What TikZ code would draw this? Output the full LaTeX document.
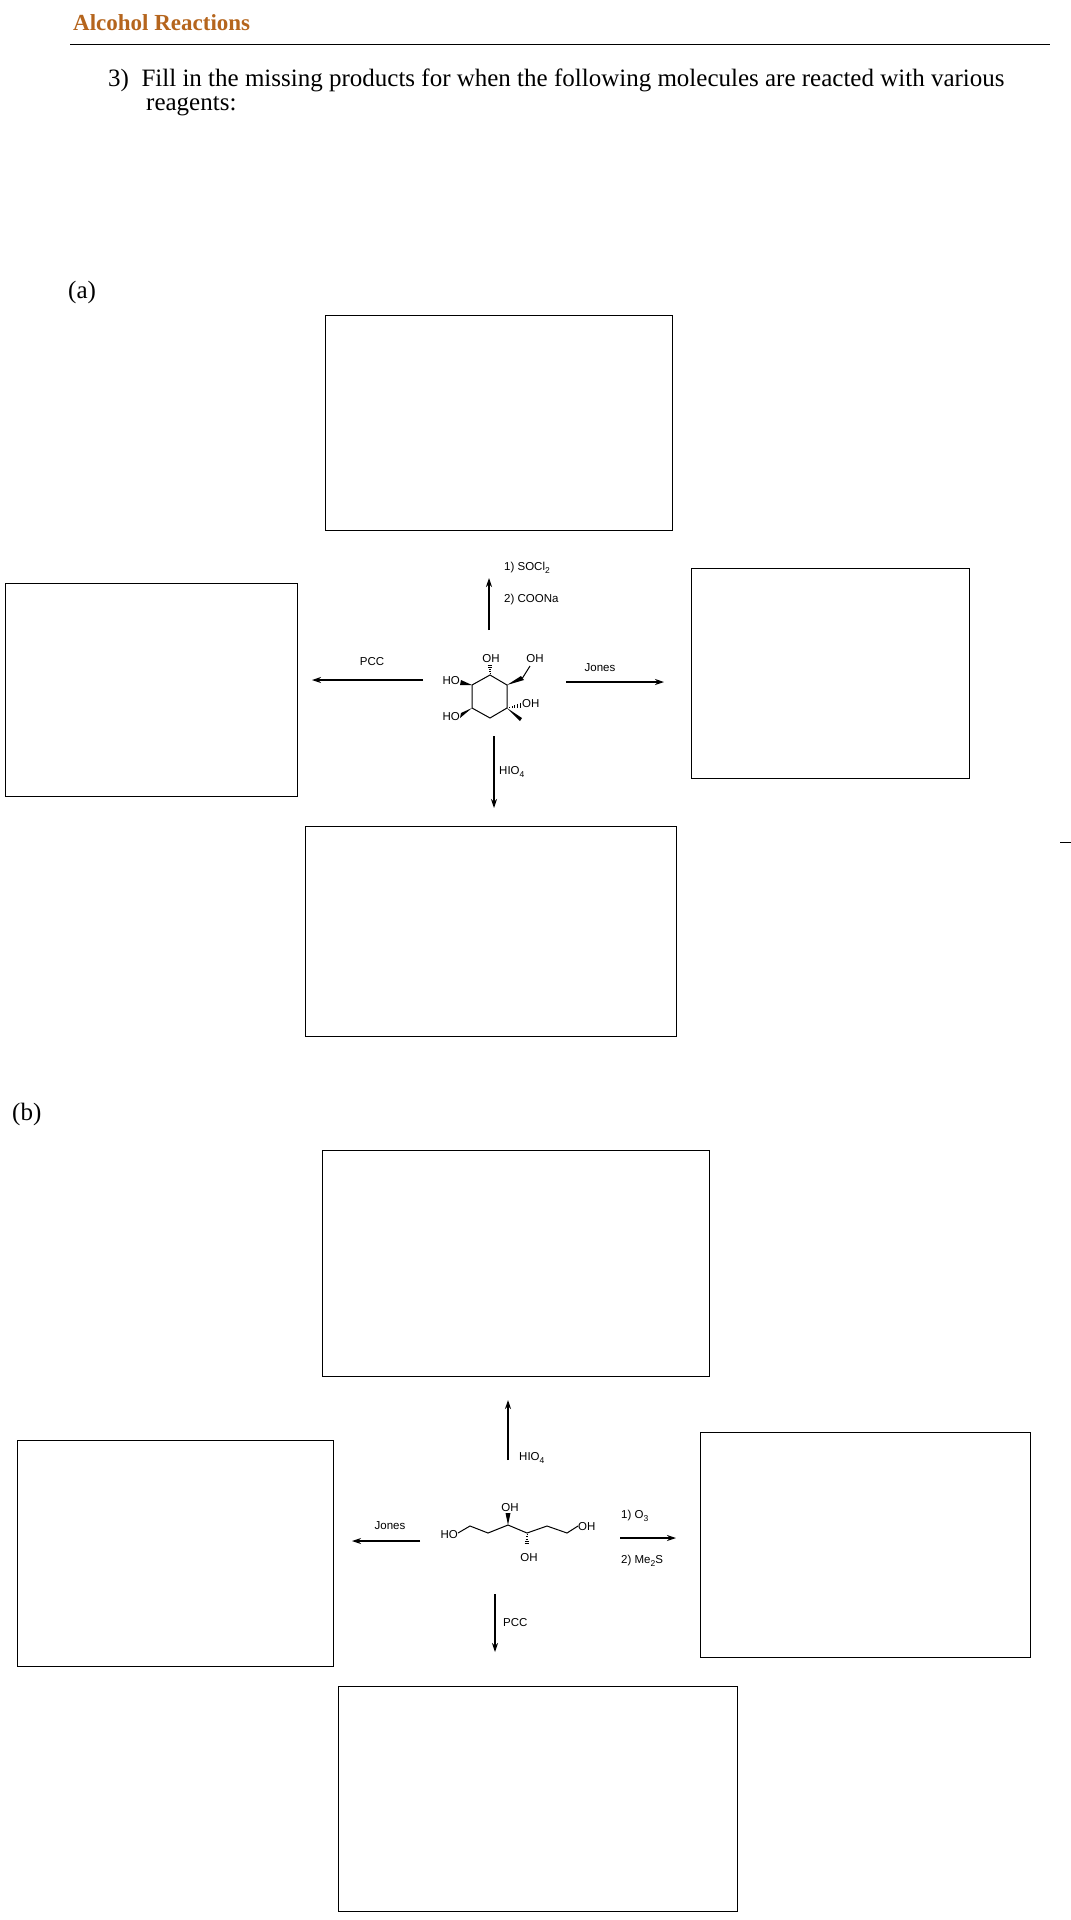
\documentclass[tikz,border=0pt]{standalone}
\usepackage{fontspec}
\setmainfont{Liberation Serif}
\newfontfamily\chemf{Liberation Sans}
\usetikzlibrary{calc,arrows.meta}
\definecolor{titlec}{HTML}{B5651D}
\newcommand{\sbs}[1]{\raisebox{-2.5pt}{\fontsize{8.5}{9}\selectfont #1}}
\begin{document}
\begin{tikzpicture}[x=1pt,y=-1pt,
  box/.style={draw,line width=1pt},
  rxn/.style={line width=1.1pt,-{Stealth[length=9pt,width=6pt]}},
  lab/.style={font=\chemf\fontsize{11.5}{13}\selectfont,inner sep=1pt},
  bond/.style={line width=1pt},
  txt/.style={font=\fontsize{25}{29}\selectfont,anchor=west,inner sep=0pt}]
\useasboundingbox (0,0) rectangle (1071,1920);
% header
\node[anchor=west,inner sep=0pt,text=titlec,font=\bfseries\fontsize{23}{27}\selectfont] (title) at (73,23) {Alcohol Reactions};
\draw[line width=0.6pt] (70,44) -- (1050,44);
\node[txt] (q1) at (108,80) {3)\ \ Fill in the missing products for when the following molecules are reacted with various};
\node[txt] (q2) at (146,106) {reagents:};
\node[txt] (pa) at (68,292) {(a)};
\node[txt] (pb) at (12,1114) {(b)};
\draw[line width=0.8pt] (1060,842) -- (1071,842);
% boxes a
\draw[box] (325,315) rectangle (672,530);
\draw[box] (5,583) rectangle (297,796);
\draw[box] (691,568) rectangle (969,778);
\draw[box] (305,826) rectangle (676,1036);
% boxes b
\draw[box] (322,1150) rectangle (709,1376);
\draw[box] (17,1440) rectangle (333,1666);
\draw[box] (700,1432) rectangle (1030,1657);
\draw[box] (338,1686) rectangle (737,1911);
% molecule a
\coordinate (c1) at (472,685); \coordinate (c2) at (490,675); \coordinate (c3) at (507,685);
\coordinate (c4) at (507,708); \coordinate (c5) at (490,718); \coordinate (c6) at (472,708);
\draw[bond] (c1)--(c2)--(c3)--(c4)--(c5)--(c6)--cycle;
\foreach \t in {0.15,0.35,0.55,0.75,0.95}{\draw[line width=0.8pt] ($(c2)+(-2.5*\t,-10*\t)$)--($(c2)+(2.5*\t,-10*\t)$);}
\node[lab] (oh1) at (491,659) {OH};
\fill (c3) -- (521,676) -- (524,680) -- cycle;
\draw[bond] (522.5,678) -- (530,666);
\node[lab] (oh2) at (535,659) {OH};
\fill (c1) -- (461,680) -- (460,685) -- cycle;
\node[lab,anchor=east] (ho1) at (461,681) {HO};
\fill (c6) -- (461,713) -- (460,718) -- cycle;
\node[lab,anchor=east] (ho2) at (461,717) {HO};
\foreach \t in {0.15,0.35,0.55,0.75,0.95}{\draw[line width=0.8pt] ($(c4)+(14*\t,-3*\t-2.5*\t)$)--($(c4)+(14*\t,-3*\t+2.5*\t)$);}
\node[lab,anchor=west] (oh3) at (521,704) {OH};
\fill (c4) -- (522,718) -- (520,721) -- cycle;
% arrows a
\coordinate (pccA) at (423,680); \coordinate (pccB) at (312,680);
\draw[rxn] (pccA) -- (pccB);
\node[lab] (pcc) at (372,662) {PCC};
\coordinate (jA) at (566,682); \coordinate (jB) at (664,682);
\draw[rxn] (jA) -- (jB);
\node[lab] (jones) at (600,668) {Jones};
\coordinate (uA) at (489,630); \coordinate (uB) at (489,578);
\draw[rxn] (uA) -- (uB);
\node[lab,anchor=west] (s1) at (503,568) {1) SOCl\sbs{2}};
\node[lab,anchor=west] (s2) at (503,600) {2) COONa};
\coordinate (dA) at (494,736); \coordinate (dB) at (494,808);
\draw[rxn] (dA) -- (dB);
\node[lab,anchor=west] (hio) at (498,772) {HIO\sbs{4}};
% molecule b
\coordinate (b1) at (458,1533); \coordinate (b2) at (470,1526); \coordinate (b3) at (488,1533);
\coordinate (b4) at (508,1525); \coordinate (b5) at (527,1533); \coordinate (b6) at (547,1526);
\coordinate (b7) at (567,1533); \coordinate (b8) at (578,1526);
\draw[bond] (b1)--(b2)--(b3)--(b4)--(b5)--(b6)--(b7)--(b8);
\node[lab,anchor=east] (hob) at (459,1535) {HO};
\node[lab,anchor=west] (ohb1) at (577,1527) {OH};
\fill (b4) -- (505.5,1513) -- (510.5,1513) -- cycle;
\node[lab] (ohb2) at (510,1508) {OH};
\foreach \t in {0.15,0.35,0.55,0.75,0.95}{\draw[line width=0.8pt] ($(b5)+(-2.5*\t,11*\t)$)--($(b5)+(2.5*\t,11*\t)$);}
\node[lab] (ohb3) at (529,1558) {OH};
% arrows b
\coordinate (ubA) at (508,1460); \coordinate (ubB) at (508,1400);
\draw[rxn] (ubA) -- (ubB);
\node[lab,anchor=west] (hiob) at (518,1458) {HIO\sbs{4}};
\coordinate (jbA) at (420,1541); \coordinate (jbB) at (352,1541);
\draw[rxn] (jbA) -- (jbB);
\node[lab] (jonesb) at (390,1526) {Jones};
\coordinate (rbA) at (620,1538); \coordinate (rbB) at (676,1538);
\draw[rxn] (rbA) -- (rbB);
\node[lab,anchor=west] (o3) at (620,1516) {1) O\sbs{3}};
\node[lab,anchor=west] (me) at (620,1561) {2) Me\sbs{2}S};
\coordinate (dbA) at (495,1594); \coordinate (dbB) at (495,1652);
\draw[rxn] (dbA) -- (dbB);
\node[lab,anchor=west] (pccb) at (502,1623) {PCC};
\end{tikzpicture}
\end{document}
